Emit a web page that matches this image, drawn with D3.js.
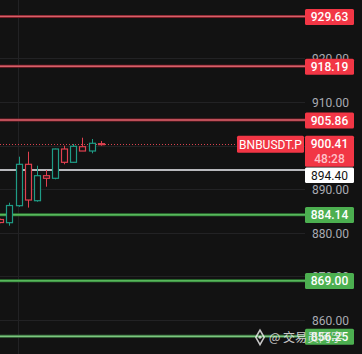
<!DOCTYPE html>
<html><head><meta charset="utf-8">
<script src="https://cdn.jsdelivr.net/npm/d3@7"></script>
<style>html,body{margin:0;padding:0;background:#121212;overflow:hidden}</style>
</head><body>
<svg id="c" width="362" height="354"></svg>
<script>
// ---- data ----
const opens  = [883.05, 882.32, 886.22, 895.71, 887.36, 893.10, 892.50, 899.22, 896.17, 899.75, 898.76, 900.44];
const highs  = [883.25, 886.90, 897.46, 898.60, 895.39, 894.40, 899.30, 899.98, 900.37, 901.81, 901.51, 901.06];
const lows   = [882.20, 881.63, 885.95, 885.78, 887.13, 890.57, 892.27, 895.71, 896.10, 898.76, 898.23, 899.98];
const closes = [882.36, 886.26, 895.71, 887.52, 893.10, 892.50, 899.22, 896.17, 899.84, 898.76, 900.53, 900.41];
const resistanceLevels = [929.63, 918.19, 905.86];
const supportLevels = [884.14, 869.00, 856.25];
const tickValues = [920, 910, 900, 890, 880, 870, 860];
const lastPrice = 900.41;
const countdown = "48:28";
const markPrice = 894.40;
const symbol = "BNBUSDT.P";
const watermark = "@ 交易员阿宇";

const svg = d3.select("#c");
const W = 362, H = 354;
svg.append("rect").attr("width", W).attr("height", H).attr("fill", "#121212");

const y = d3.scaleLinear().domain([860, 920]).range([320, 58.4]);
const x = d3.scaleLinear().domain([0, opens.length - 1]).range([0.3, 100.7]);
const plotRight = 305;
const font = "Roboto, 'Liberation Sans', sans-serif";

// grid
svg.append("g").selectAll("line").data(d3.range(860, 940, 10)).join("line")
  .attr("x1", 0).attr("x2", plotRight)
  .attr("y1", d => Math.round(y(d)) + 0.5).attr("y2", d => Math.round(y(d)) + 0.5)
  .attr("stroke", "#222224").attr("stroke-width", 1);
svg.append("line").attr("x1", Math.round(x(2)) - 0.5).attr("x2", Math.round(x(2)) - 0.5)
  .attr("y1", 0).attr("y2", H).attr("stroke", "#222224");

// y tick labels
const yAxis = d3.axisRight(y).tickValues(tickValues).tickFormat(d3.format(".2f")).tickSize(0).tickPadding(0);
const ag = svg.append("g").attr("transform", `translate(349,0)`).call(yAxis);
ag.select(".domain").remove();
ag.selectAll("text").attr("text-anchor", "end").attr("fill", "#a9abb2")
  .attr("font-family", font).attr("font-size", 12).attr("dy", "0.35em");

// level lines
function levelLine(v, outer, inner) {
  const yy = y(v);
  svg.append("line").attr("x1", 0).attr("x2", plotRight).attr("y1", yy).attr("y2", yy)
    .attr("stroke", outer).attr("stroke-width", 3);
  svg.append("line").attr("x1", 0).attr("x2", plotRight).attr("y1", yy).attr("y2", yy)
    .attr("stroke", inner).attr("stroke-width", 1.4);
}
resistanceLevels.forEach(v => levelLine(v, "#7e1f28", "#d4606a"));
supportLevels.forEach((v, i) => levelLine(v, i === 2 ? "#3f7a43" : "#2f7d34", i === 2 ? "#7cc47f" : "#58b75c"));

// mark price line
svg.append("line").attr("x1", 0).attr("x2", plotRight).attr("y1", y(markPrice)).attr("y2", y(markPrice))
  .attr("stroke", "#b8b9bd").attr("stroke-width", 2);

// last price dotted line
svg.append("line").attr("x1", 0).attr("x2", 237).attr("y1", Math.round(y(lastPrice)) + 0.5).attr("y2", Math.round(y(lastPrice)) + 0.5)
  .attr("stroke", "#d9434f").attr("stroke-width", 1).attr("stroke-dasharray", "1,2");

// candles
const up = "#1f9c86", dn = "#e0404f";
const cg = svg.append("g");
opens.forEach((o, i) => {
  const c = closes[i], col = c >= o ? up : dn, cx = Math.round(x(i));
  cg.append("line").attr("x1", cx + 0.5).attr("x2", cx + 0.5).attr("y1", y(highs[i])).attr("y2", y(lows[i]))
    .attr("stroke", col).attr("stroke-width", 1);
  const top = y(Math.max(o, c)), bot = y(Math.min(o, c));
  cg.append("rect").attr("x", cx - 2.5).attr("y", top).attr("width", 6).attr("height", Math.max(1, bot - top))
    .attr("fill", "#121212").attr("stroke", col).attr("stroke-width", 1.2);
});

// labels
function box(x0, y0, w, h, fill) {
  return svg.append("rect").attr("x", x0).attr("y", y0).attr("width", w).attr("height", h)
    .attr("rx", 1.5).attr("fill", fill);
}
function label(txt, cx, cy, col, weight) {
  svg.append("text").attr("x", cx).attr("y", cy).attr("dy", "0.35em").attr("text-anchor", "middle")
    .attr("fill", col).attr("font-family", font).attr("font-size", 12).attr("font-weight", weight || 500).text(txt);
}
resistanceLevels.forEach(v => {
  const cy = y(v) + 0.5;
  box(305, cy - 8, 49, 16, "#f23645");
  label(d3.format(".2f")(v), 329.5, cy, "#ffffff");
});
supportLevels.forEach((v, i) => {
  const cy = y(v) + 0.3;
  box(305, cy - 8, 49, 16, i === 2 ? "#4caf50" : "#4caf50");
  label(d3.format(".2f")(v), 329.5, cy, "#ffffff");
});

// last price box
const ly = y(lastPrice);
box(305, ly - 8, 49, 31, "#f23645");
label(d3.format(".2f")(lastPrice), 329.5, ly, "#ffffff");
label(countdown, 329.5, ly + 14.5, "#ffc2c8");
box(237, ly - 8, 67, 17, "#f23645");
label(symbol, 270.5, ly + 0.5, "#ffffff", 400);

// mark price box
box(305, 167.5, 49, 15.5, "#ffffff");
label(d3.format(".2f")(markPrice), 329.5, 175.5, "#131313", 400);

// watermark
const wy = y(856.25) + 1;
const wg = svg.append("g").attr("opacity", 0.85);
wg.append("path").attr("d", d3.symbol(d3.symbolDiamond, 60)()).attr("transform", `translate(260,${wy})`)
  .attr("fill", "none").attr("stroke", "#e8e8e8").attr("stroke-width", 1.6);
wg.append("circle").attr("cx", 260).attr("cy", wy).attr("r", 1.5).attr("fill", "#e8e8e8");
wg.append("text").attr("x", 269).attr("y", wy).attr("dy", "0.35em").attr("fill", "#e8e8e8")
  .attr("font-family", "'Noto Sans CJK SC', sans-serif").attr("font-size", 12).text(watermark);
</script>
</body></html>
